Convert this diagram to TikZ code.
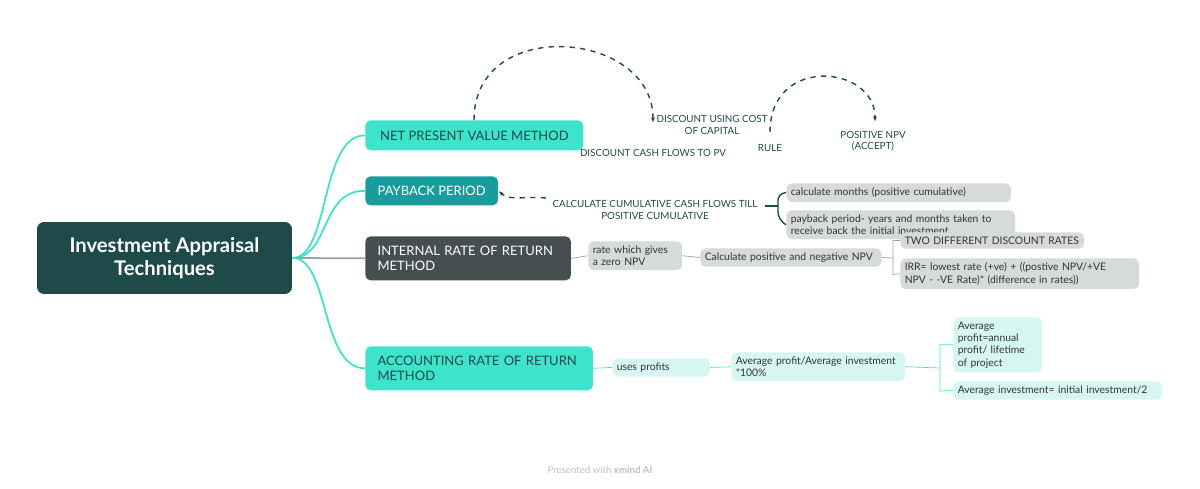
\documentclass[tikz,border=0pt]{standalone}
\usepackage{fontspec}
\setmainfont{Lato}
\usetikzlibrary{arrows.meta, positioning}
\definecolor{rootcol}{HTML}{1E4A4A}
\definecolor{turq}{HTML}{3EE3CB}
\definecolor{paycol}{HTML}{1B9C9C}
\definecolor{irrcol}{HTML}{454F4F}
\definecolor{greybox}{HTML}{D7DADA}
\definecolor{mint}{HTML}{D6F7F1}
\definecolor{greyline}{HTML}{9AA3A3}
\definecolor{dashcol}{HTML}{1F4A4A}
\tikzset{
  main/.style={rounded corners=3pt, anchor=north west, inner xsep=7pt, align=left, font=\fontsize{7.4}{8.6}\selectfont},
  sub/.style={rounded corners=3pt, anchor=north west, inner sep=2.5pt, align=left, font=\fontsize{5.9}{7}\selectfont, fill=greybox, text=black!80},
  subm/.style={sub, fill=mint},
  plain/.style={align=center, font=\fontsize{5.6}{6.6}\selectfont, text=dashcol},
  link/.style={line width=1pt, turq},
  dashlink/.style={dashed, thick, dashcol, -{Latex[length=3pt]}}
}
\begin{document}
\begin{tikzpicture}[x=0.02cm, y=-0.02cm]
\useasboundingbox (0,0) rectangle (1200,489);
% root
\node[fill=rootcol, text=white, rounded corners=4pt, minimum width=5.1cm, minimum height=1.44cm, align=center, font=\fontsize{11.5}{13}\selectfont\bfseries] (root) at (164.5,258) {Investment Appraisal\\Techniques};
% main branches
\node[main, fill=turq, text=rootcol, minimum width=4.36cm, minimum height=0.6cm] (npv) at (365,120) {NET PRESENT VALUE METHOD};
\node[main, fill=paycol, text=white, minimum width=2.56cm, minimum height=0.58cm] (pay) at (365,176) {PAYBACK PERIOD};
\node[main, fill=irrcol, text=white, text width=3.62cm, minimum height=0.88cm] (irr) at (365,236) {INTERNAL RATE OF RETURN\\METHOD};
\node[main, fill=turq, text=rootcol, text width=4.06cm, minimum height=0.88cm] (arr) at (365,346) {ACCOUNTING RATE OF RETURN\\METHOD};
\draw[link] (root.east) .. controls (330,258) and (320,135) .. (npv.west);
\draw[link] (root.east) .. controls (330,258) and (320,190) .. (pay.west);
\draw[line width=1pt, greyline] (root.east) -- (irr.west);
\draw[link] (root.east) .. controls (330,258) and (320,368) .. (arr.west);
% NPV
\node[plain] (dcf) at (653,153) {DISCOUNT CASH FLOWS TO PV};
\node[plain] (duc) at (712,125) {DISCOUNT USING COST\\OF CAPITAL};
\node[plain] (rule) at (770,148) {RULE};
\node[plain] (pnpv) at (873,141) {POSITIVE NPV\\(ACCEPT)};
\coordinate (npvtop) at (474,120);
\coordinate (dcftop) at (653,123);
\coordinate (ruletop) at (770,132);
\coordinate (pnpvtop) at (875,122);
\draw[dashlink] (npvtop) .. controls (474,15) and (653,30) .. (dcftop);
\draw[dashlink] (ruletop) .. controls (770,55) and (875,65) .. (pnpvtop);
% payback
\node[plain] (ccf) at (655,210) {CALCULATE CUMULATIVE CASH FLOWS TILL\\POSITIVE CUMULATIVE};
\draw[dashlink] (546,198) .. controls (525,196) and (510,201) .. (pay.east);
\node[sub, text width=4.32cm] (months) at (786,183) {calculate months (positive cumulative)};
\node[sub, text width=4.4cm] (ppdef) at (786,210) {payback period- years and months taken to\\receive back the initial investment};
\draw[thick, rootcol] (765,206) -- (778,206);
\draw[thick, rootcol, rounded corners=4pt] (months.west) -- (778,193.5) -- (778,219) -- (ppdef.west);
% IRR
\node[sub, text width=1.7cm] (zero) at (588,241) {rate which gives\\a zero NPV};
\node[sub, text width=3.45cm] (posneg) at (700,248) {Calculate positive and negative NPV};
\node[sub, text width=3.5cm] (two) at (900,232) {TWO DIFFERENT DISCOUNT RATES};
\node[sub, text width=4.6cm] (irrf) at (900,258) {IRR= lowest rate (+ve) + ((postive NPV/+VE\\NPV - -VE Rate)* (difference in rates))};
\draw[greyline] (irr.east) -- (zero.west);
\draw[greyline] (zero.east) -- (posneg.west);
\draw[greyline] (posneg.east) -- (893,258);
\draw[greyline] (two.west) -| (893,274.5) -- (irrf.west);
% ARR
\node[subm, text width=1.78cm] (prof) at (612,358) {uses profits};
\node[subm, text width=3.3cm] (avg) at (731,352) {Average profit/Average investment\\{}*100\%};
\node[subm, text width=1.6cm] (avgp) at (953,317) {Average\\profit=annual\\profit/ lifetime\\of project};
\node[subm, text width=4.0cm] (avgi) at (953,381) {Average investment= initial investment/2};
\draw[turq] (arr.east) -- (prof.west);
\draw[turq] (prof.east) -- (avg.west);
\draw[turq] (avg.east) -- (940,368);
\draw[turq] (avgp.west) -| (940,391) -- (avgi.west);
% footer
\node[font=\fontsize{5.5}{6}\selectfont, text=black!25] (foot) at (600,470) {Presented with \textbf{xmind AI}};
\end{tikzpicture}
\end{document}
